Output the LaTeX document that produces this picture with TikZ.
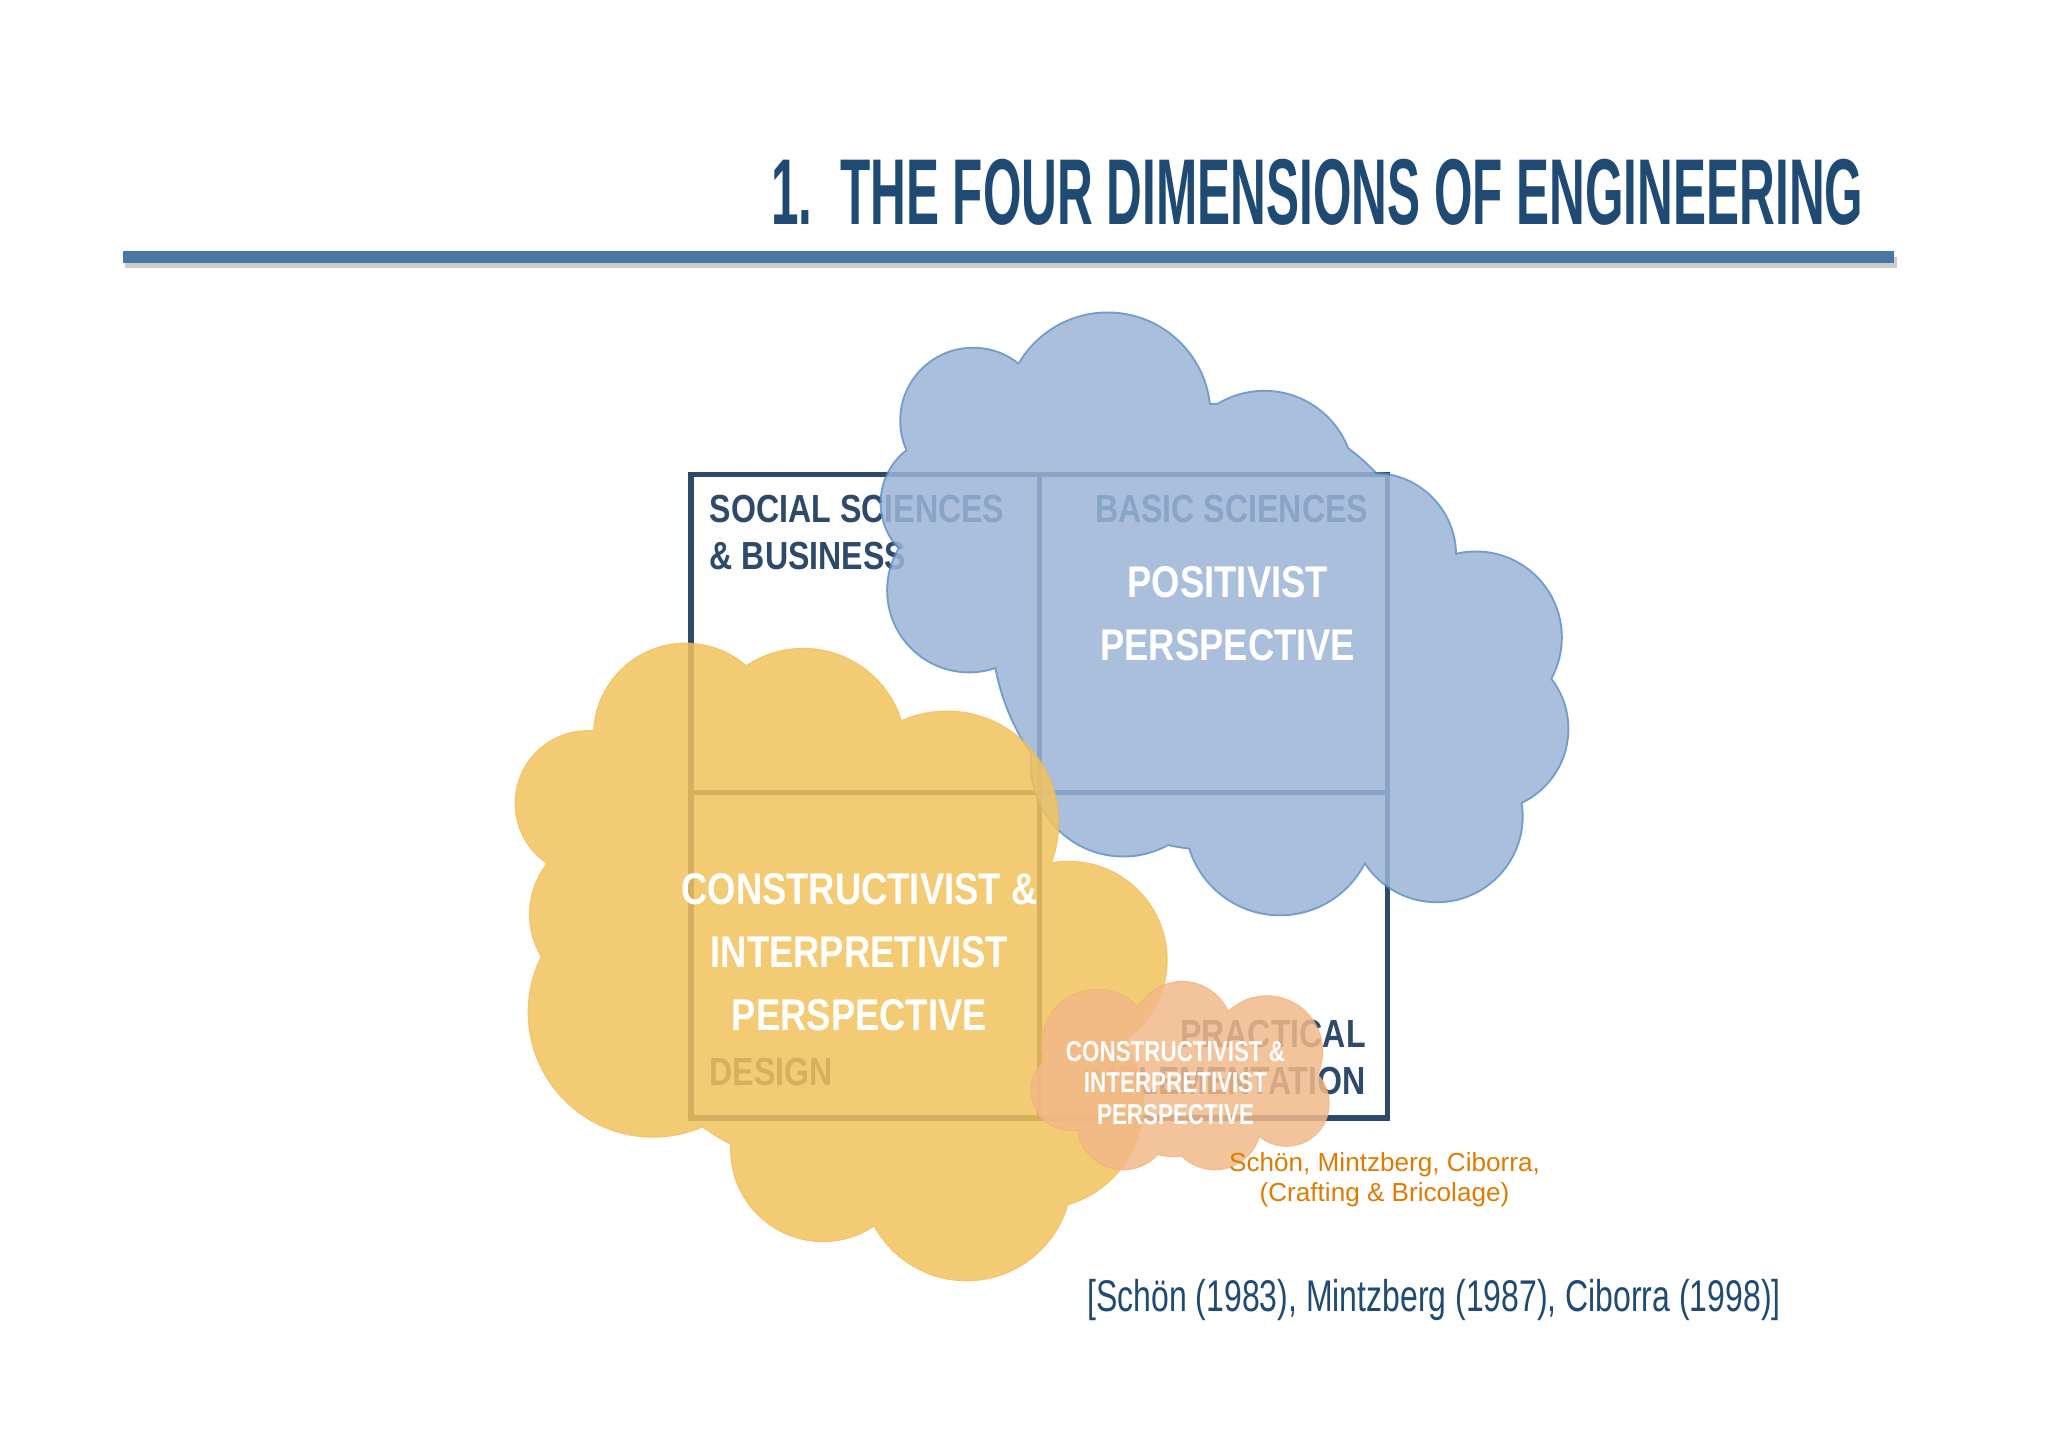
\documentclass[tikz,border=0pt]{standalone}
\usepackage{fontspec}
\setmainfont{Liberation Sans}
\usepackage{graphicx}
\definecolor{navy}{HTML}{1F4A73}
\definecolor{boxc}{HTML}{2E4A6B}
\definecolor{rulec}{HTML}{4A76A8}
\definecolor{bluef}{HTML}{9AB4D6}
\definecolor{bluel}{HTML}{5B8CC4}
\definecolor{yell}{HTML}{F2C35E}
\definecolor{salm}{HTML}{F2B98A}
\definecolor{orng}{HTML}{E07B00}
\newcommand{\nar}[2][0.82]{\scalebox{#1}[1]{#2}}
\tikzset{
 lbl/.style={font=\fontsize{15}{18}\selectfont\bfseries, text=boxc, inner sep=0pt},
 wht/.style={font=\fontsize{17}{21}\selectfont\bfseries, text=white, align=center, inner sep=0pt},
}
\begin{document}
\begin{tikzpicture}[x=0.5pt,y=-0.5pt]
\useasboundingbox (0,0) rectangle (1568,1108);
\fill[white] (0,0) rectangle (1568,1108);
% title
\node[anchor=east,inner sep=0pt,text=navy] (title) at (1427,147)
 {\resizebox{418pt}{25pt}{\bfseries 1.\ \ THE FOUR DIMENSIONS OF ENGINEERING}};
\fill[gray!40] (96,197) rectangle (1452,205);
\fill[rulec] (94,192) rectangle (1450,201);
% box
\draw[boxc,line width=2pt] (529,363) rectangle (1062,856);
\draw[boxc,line width=2pt] (796,363) -- (796,856) (529,607) -- (1062,607);
\node[lbl,anchor=west,align=left] (ssb) at (543,408) {\nar{SOCIAL SCIENCES}\\\nar{\& BUSINESS}};
\node[lbl] (bs) at (943,390) {\nar{BASIC SCIENCES}};
\node[lbl,anchor=west] (des) at (543,821) {\nar{DESIGN}};
\node[lbl,anchor=east,align=right] (pi) at (1046,810) {\nar{PRACTICAL}\\\nar{IMPLEMENTATION}};
% blue cloud
\begin{scope}[transparency group,opacity=0.85]
\def\bc{(848,318) circle (78) (745,322) circle (55) (968,368) circle (68) (1052,425) circle (62)
 (1130,488) circle (65) (1138,558) circle (62) (1100,625) circle (65) (980,628) circle (72)
 (860,585) circle (70) (742,452) circle (62) (725,385) circle (50) (800,380) circle (70) (930,480) circle (170)}
\draw[bluel,line width=1.5pt] \bc;
\fill[bluef] \bc;
\end{scope}
% yellow cloud
\begin{scope}[transparency group,opacity=0.85]
\def\yc{(525,563) circle (70) (615,575) circle (78) (725,630) circle (85) (818,735) circle (75)
 (795,845) circle (80) (740,900) circle (80) (630,880) circle (70) (500,775) circle (95)
 (450,615) circle (55) (468,700) circle (62) (640,720) circle (175)}
\draw[yell!85!orange,line width=1pt] \yc;
\fill[yell] \yc;
\end{scope}
% salmon cloud
\begin{scope}[transparency group,opacity=0.85]
\def\sc{(840,800) circle (42) (905,790) circle (38) (970,805) circle (42) (985,845) circle (32)
 (930,860) circle (35) (860,860) circle (35) (820,835) circle (30) (900,825) circle (60)}
\draw[salm!85!orange,line width=1pt] \sc;
\fill[salm] \sc;
\end{scope}
% cloud texts
\node[wht] (pos) at (940,470) {\nar{POSITIVIST}\\[3pt]\nar{PERSPECTIVE}};
\node[wht] (con) at (658,729) {\nar{CONSTRUCTIVIST \&}\\[3pt]\nar{INTERPRETIVIST}\\[3pt]\nar{PERSPECTIVE}};
\node[wht,font=\fontsize{11}{12}\selectfont\bfseries] (con2) at (900,829) {\nar[0.78]{CONSTRUCTIVIST \&}\\\nar[0.78]{INTERPRETIVIST}\\\nar[0.78]{PERSPECTIVE}};
\node[text=orng,align=center,font=\fontsize{10}{11.5}\selectfont,inner sep=0pt] (cite1) at (1060,903)
 {Schön, Mintzberg, Ciborra,\\(Crafting \& Bricolage)};
\node[text=navy,font=\fontsize{17}{20}\selectfont,inner sep=0pt] (cite2) at (1098,995)
 {\nar[0.72]{[Schön (1983), Mintzberg (1987), Ciborra (1998)]}};
\end{tikzpicture}
\end{document}
